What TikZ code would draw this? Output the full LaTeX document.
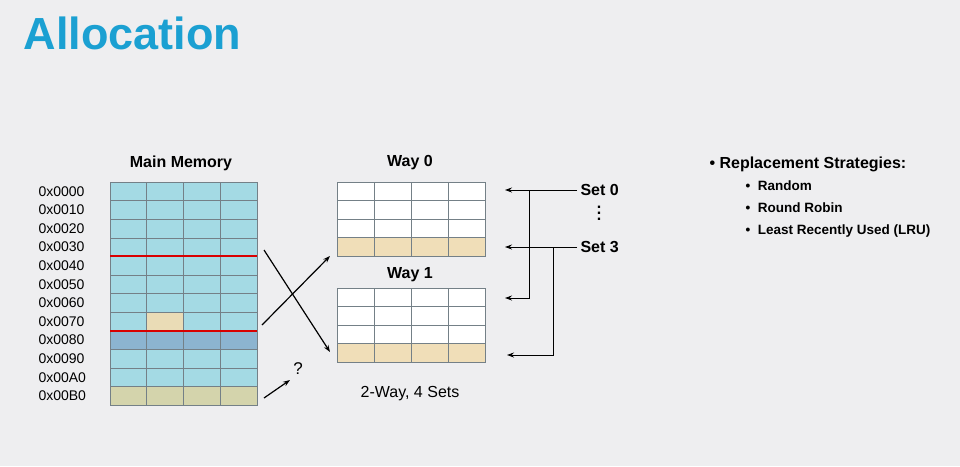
\documentclass[tikz,border=0pt]{standalone}
\usepackage{fontspec}
\setmainfont{Liberation Sans}
\usetikzlibrary{arrows.meta}
\definecolor{bgc}{RGB}{238,238,240}
\definecolor{titlec}{RGB}{27,160,210}
\definecolor{memc}{RGB}{164,218,228}
\definecolor{rowc}{RGB}{140,180,208}
\definecolor{tanc}{RGB}{240,222,184}
\definecolor{olivec}{RGB}{212,212,172}
\definecolor{gridc}{RGB}{70,85,95}
\begin{document}
\begin{tikzpicture}[x=1pt,y=-1pt,>={Stealth[length=7pt,width=5pt]},
    lbl/.style={font=\bfseries\fontsize{16}{19}\selectfont},
    addr/.style={font=\fontsize{14}{16}\selectfont,anchor=west},
    grid/.style={draw=gridc!75,line width=0.6pt}]
  \fill[bgc] (0,0) rectangle (960,466);
  \node[anchor=west,text=titlec,font=\bfseries\fontsize{45}{50}\selectfont] (title) at (20,33) {Allocation};

  % main memory
  \fill[memc] (110,182) rectangle (257,405);
  \fill[tanc!80!olivec] (146.75,312.4) rectangle (183.5,331);
  \fill[rowc] (110,331) rectangle (257,349.6);
  \fill[olivec] (110,386.4) rectangle (257,405);
  \foreach \i in {1,...,11} \draw[grid] (110,182+\i*18.6) -- (257,182+\i*18.6);
  \foreach \j in {1,2,3} \draw[grid] (110+\j*36.75,182) -- (110+\j*36.75,405);
  \draw[grid] (110,182) rectangle (257,405);
  \draw[red!85!black,line width=2pt] (110,256.4) -- (257,256.4);
  \draw[red!85!black,line width=2pt] (110,330.8) -- (257,330.8);
  \node[lbl] (mm) at (181,163) {Main Memory};
  \foreach \a [count=\i from 0] in {0000,0010,0020,0030,0040,0050,0060,0070,0080,0090,00A0,00B0}
    \node[addr] (a\i) at (35,191.3+\i*18.6) {0x\a};

  % ways
  \foreach \w/\y in {0/182,1/288} {
    \fill[white] (337,\y) rectangle (485,\y+74);
    \fill[tanc] (337,\y+55.5) rectangle (485,\y+74);
    \foreach \i in {1,2,3} \draw[grid] (337,\y+\i*18.5) -- (485,\y+\i*18.5);
    \foreach \j in {1,2,3} \draw[grid] (337+\j*37,\y) -- (337+\j*37,\y+74);
    \draw[grid] (337,\y) rectangle (485,\y+74);
  }
  \node[lbl] (w0) at (410,163) {Way 0};
  \node[lbl] (w1) at (410,275) {Way 1};
  \node[font=\fontsize{16}{19}\selectfont] (cfg) at (410,394) {2-Way, 4 Sets};

  % mapping arrows
  \coordinate (m3) at (264,250);
  \coordinate (m7) at (262,325);
  \coordinate (mb) at (264,398);
  \coordinate (s0) at (330,256);
  \coordinate (s1) at (330,352);
  \draw[->,line width=1.2pt] (m3) -- (s1);
  \draw[->,line width=1.2pt] (m7) -- (s0);
  \draw[->,line width=1.2pt] (mb) -- (290,380);
  \node[font=\fontsize{17}{20}\selectfont] (q) at (298,369) {?};

  % set lines
  \node[lbl,anchor=west] (set0) at (577,190) {Set 0};
  \node[lbl,anchor=west] (set3) at (577,247) {Set 3};
  \node[font=\bfseries\fontsize{16}{6}\selectfont,align=center,inner sep=0pt] (dots) at (599,213) {.\\.\\.};
  \coordinate (t0) at (505,190);
  \coordinate (t3) at (505,247);
  \coordinate (t4) at (505,298);
  \coordinate (t7) at (507,355);
  \draw[->,line width=0.9pt] (set0.west) -- (t0);
  \draw[->,line width=0.9pt] (set3.west) -- (t3);
  \draw[->,line width=0.9pt] (529,190) -- (529,298) -- (t4);
  \draw[->,line width=0.9pt] (553,247) -- (553,355) -- (t7);

  % strategies
  \node[lbl,anchor=west] (rs) at (706,164) {\textbullet\ Replacement Strategies:};
  \node[anchor=west,font=\bfseries\fontsize{13.5}{16}\selectfont,align=left] (st) at (742,209)
    {\textbullet\ \ Random\\[6pt]\textbullet\ \ Round Robin\\[6pt]\textbullet\ \ Least Recently Used (LRU)};
\end{tikzpicture}
\end{document}
